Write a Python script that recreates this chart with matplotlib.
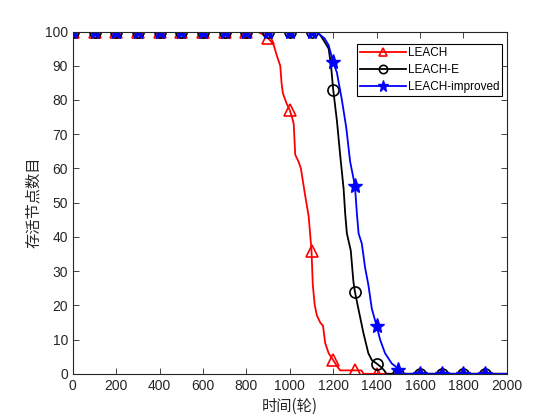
import matplotlib
matplotlib.use('Agg')
import matplotlib.pyplot as plt
import numpy as np

plt.rcParams['font.family'] = ['Liberation Sans', 'Noto Sans CJK SC', 'DejaVu Sans']

# LEACH (red)
leach_r = [0, 100, 200, 300, 400, 500, 600, 700, 800, 850, 880, 900, 915, 926, 940,
           956, 962, 968, 985, 1000, 1010, 1018, 1025, 1040, 1051, 1071, 1087, 1100,
           1106, 1115, 1125, 1140, 1153, 1163, 1179, 1200, 1220, 1232, 1300, 1330,
           1340, 1400, 1500, 1600, 1700, 1800, 1900, 2000]
leach_n = [100, 100, 100, 100, 100, 100, 100, 100, 100, 100, 99, 98, 97, 96, 93,
           90, 85, 82, 79, 77, 75, 73, 64, 62, 60, 52, 46, 36,
           26, 20, 17, 15, 14, 9, 6, 4, 2, 1, 1, 1,
           0, 0, 0, 0, 0, 0, 0, 0]

# LEACH-E (black)
leache_r = [0, 100, 200, 300, 400, 500, 600, 700, 800, 900, 1000, 1100, 1120, 1140,
            1160, 1179, 1190, 1200, 1217, 1232, 1248, 1255, 1263, 1281, 1293, 1300,
            1316, 1339, 1362, 1378, 1400, 1420, 1435, 1445, 1500, 1600, 1700, 1800,
            1900, 2000]
leache_n = [100, 100, 100, 100, 100, 100, 100, 100, 100, 100, 100, 100, 100, 99,
            97, 95, 90, 83, 74, 64, 54, 47, 41, 36, 27, 24,
            19, 12, 6, 4, 3, 2, 1, 0, 0, 0, 0, 0,
            0, 0]

# LEACH-improved (blue)
leachi_r = [0, 100, 200, 300, 400, 500, 600, 700, 800, 900, 1000, 1100, 1120, 1140,
            1160, 1179, 1200, 1217, 1240, 1260, 1278, 1300, 1309, 1317, 1332, 1347,
            1362, 1378, 1400, 1416, 1439, 1470, 1490, 1500, 1515, 1600, 1700, 1800,
            1900, 2000]
leachi_n = [100, 100, 100, 100, 100, 100, 100, 100, 100, 100, 100, 100, 100, 99,
            98, 96, 91, 88, 80, 72, 62, 55, 47, 41, 38, 31,
            26, 19, 14, 10, 6, 3, 2, 1, 0, 0, 0, 0,
            0, 0]


def marks(r):
    r = np.array(r)
    return list((r % 100 == 0) & (r < 2000))


fig = plt.figure(figsize=(5.6, 4.2), dpi=100)
ax = fig.add_axes([0.13, 0.11, 0.775, 0.815])

ax.plot(leach_r, leach_n, 'r-', marker='^', mfc='none', mec='r', ms=8, mew=1.2,
        lw=1.3, markevery=marks(leach_r), label='LEACH')
ax.plot(leache_r, leache_n, 'k-', marker='o', mfc='none', mec='k', ms=8, mew=1.2,
        lw=1.3, markevery=marks(leache_r), label='LEACH-E')
ax.plot(leachi_r, leachi_n, 'b-', marker='*', mfc='b', mec='b', ms=11, mew=1.0,
        lw=1.3, markevery=marks(leachi_r), label='LEACH-improved')

ax.set_xlim(0, 2000)
ax.set_ylim(0, 100)
ax.set_xticks(np.arange(0, 2001, 200))
ax.set_yticks(np.arange(0, 101, 10))
ax.tick_params(direction='in', top=True, right=True, length=4, width=0.6,
               labelsize=10, colors='#262626')
for s in ax.spines.values():
    s.set_linewidth(0.8)
    s.set_color('#262626')

ax.set_xlabel('时间(轮)', fontsize=11, color='#262626',
              family=['Noto Sans CJK SC', 'DejaVu Sans'])
ax.set_ylabel('存活节点数目', fontsize=11, color='#262626', labelpad=2,
              family=['Noto Sans CJK SC', 'DejaVu Sans'])

leg = ax.legend(loc='upper right', fontsize=8.5, fancybox=False, framealpha=1,
                edgecolor='k', borderpad=0.25, handlelength=3.9, handletextpad=0.2,
                labelspacing=0.45, markerscale=0.75, borderaxespad=0,
                bbox_to_anchor=(0.990, 0.964))
leg.get_frame().set_linewidth(0.8)

fig.savefig('out.png', dpi=100)
